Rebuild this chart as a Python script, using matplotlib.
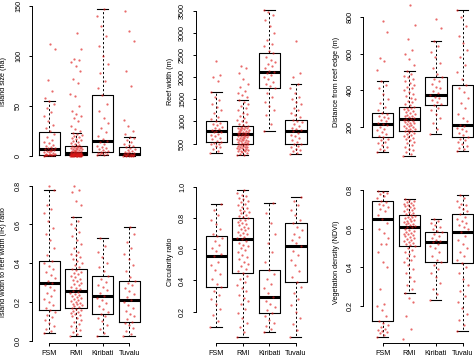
import matplotlib
matplotlib.use('Agg')
import matplotlib.pyplot as plt
import numpy as np

plt.rcParams['font.family'] = ['Liberation Sans', 'DejaVu Sans']

# ---------------- data ----------------
groups = ['FSM', 'RMI', 'Kiribati', 'Tuvalu']

# Panel 1: Island size (ha)
size_lo = [0.3, 0.1, 0.5, 0.1]
size_q1 = [1.0, 0.6, 4.0, 0.5]
size_med = [7.0, 3.0, 15.0, 2.0]
size_q3 = [24.0, 10.0, 61.0, 9.0]
size_hi = [55.0, 23.0, 147.0, 19.0]
size_fsm = [0.3, 0.5, 0.6, 0.8, 0.9, 1.0, 1.1, 1.2, 1.5, 1.8, 2.2, 2.8, 3.5, 4.0, 4.5, 5.2, 5.8, 6.3, 6.8, 7.0,
            7.5, 8.2, 9.0, 10, 11, 12.5, 14, 16, 19, 22, 25, 28, 31, 35, 40, 44, 48, 52, 55, 58, 65, 76, 107, 112]
size_rmi = [0.1, 0.15, 0.2, 0.2, 0.25, 0.3, 0.3, 0.35, 0.4, 0.4, 0.45, 0.5, 0.5, 0.5, 0.55, 0.6, 0.6, 0.65, 0.7,
            0.7, 0.75, 0.8, 0.9, 1.0, 1.1, 1.2, 1.3, 1.4, 1.5, 1.6, 1.7, 1.8, 1.9, 2.0, 2.1, 2.2, 2.3, 2.4, 2.5,
            2.6, 2.7, 2.8, 2.9, 3.0, 3.2, 3.4, 3.6, 3.9, 4.2, 4.5, 4.8, 5.1, 5.4, 5.8, 6.1, 6.5, 6.9, 7.2, 7.6,
            8.0, 8.4, 8.8, 9.1, 9.4, 9.7, 10, 11, 12, 13, 14, 15, 16, 17, 18, 19, 20, 21, 22, 23, 25, 27, 30,
            35, 38, 40, 42, 45, 50, 60, 62, 73, 77, 85, 90, 94, 96, 97, 107, 123]
size_kir = [0.5, 1, 1.5, 2, 2.5, 3, 3.5, 4, 5, 6, 7, 8, 9, 10, 12, 14, 15, 17, 20, 24, 28, 33, 38, 45, 52, 61,
            68, 75, 83, 92, 100, 110, 120, 130, 140, 147]
size_tuv = [0.1, 0.2, 0.3, 0.3, 0.4, 0.5, 0.5, 0.6, 0.8, 1.0, 1.2, 1.4, 1.6, 1.8, 2.0, 2.5, 3, 3.5, 4, 5, 6, 7,
            8, 9, 10, 11, 12, 14, 16, 18, 19, 22, 25, 30, 36, 70, 85, 115, 125, 145]

# Panel 2: Reef width (m)
reef_lo = [290, 230, 793, 260]
reef_q1 = [530, 500, 1763, 500]
reef_med = [786, 710, 2117, 778]
reef_q3 = [1004, 891, 2538, 1041]
reef_hi = [1658, 1477, 3530, 1838]
reef_fsm = [290, 330, 380, 420, 450, 480, 500, 520, 530, 560, 600, 630, 660, 690, 720, 750, 770, 786, 800, 830,
            860, 880, 910, 940, 970, 1004, 1050, 1100, 1180, 1250, 1320, 1400, 1480, 1560, 1658, 1920, 2000,
            2040, 2360]
reef_rmi = [230, 250, 270, 290, 300, 320, 330, 340, 350, 360, 370, 380, 390, 400, 410, 420, 430, 440, 450, 460,
            470, 480, 490, 500, 510, 520, 530, 540, 550, 560, 570, 580, 590, 600, 610, 620, 630, 640, 650, 660,
            670, 680, 690, 700, 705, 710, 720, 730, 740, 750, 760, 770, 780, 790, 800, 810, 820, 830, 840, 850,
            860, 870, 880, 891, 920, 950, 980, 1010, 1040, 1080, 1120, 1160, 1200, 1250, 1300, 1350, 1400, 1440,
            1477, 1550, 1600, 1650, 1700, 1780, 1850, 1950, 2100, 2200, 2250]
reef_kir = [793, 950, 1150, 1250, 1350, 1450, 1550, 1650, 1763, 1800, 1850, 1900, 1950, 2000, 2050, 2100, 2117,
            2150, 2200, 2250, 2300, 2350, 2400, 2450, 2538, 2600, 2700, 2750, 2850, 3000, 3150, 3300, 3400,
            3480, 3530]
reef_tuv = [260, 290, 320, 350, 380, 420, 450, 480, 500, 540, 580, 620, 660, 700, 740, 778, 800, 830, 860, 900,
            940, 980, 1010, 1041, 1100, 1150, 1200, 1250, 1300, 1400, 1450, 1500, 1550, 1650, 1750, 1838, 2000,
            2100, 2830]

# Panel 3: Distance from reef edge (m)
dist_lo = [59, 39, 160, 68]
dist_q1 = [141, 178, 317, 145]
dist_med = [215, 240, 374, 211]
dist_q3 = [273, 310, 471, 427]
dist_hi = [452, 505, 672, 840]
dist_fsm = [59, 70, 80, 90, 100, 110, 118, 125, 132, 141, 150, 160, 170, 180, 190, 200, 208, 215, 222, 230, 238,
            245, 252, 260, 268, 273, 290, 310, 330, 350, 380, 410, 430, 452, 510, 560, 575, 720, 780]
dist_rmi = [39, 50, 60, 70, 80, 90, 100, 110, 118, 125, 132, 138, 145, 150, 155, 160, 165, 170, 175, 178, 182,
            186, 190, 194, 198, 202, 206, 210, 214, 218, 222, 226, 230, 234, 238, 240, 244, 248, 252, 256, 260,
            265, 270, 275, 280, 285, 290, 295, 300, 305, 310, 318, 326, 334, 342, 350, 360, 370, 380, 390, 400,
            410, 420, 430, 440, 450, 460, 470, 480, 490, 505, 540, 570, 600, 620, 680, 760, 870]
dist_kir = [160, 190, 220, 250, 270, 290, 305, 317, 325, 335, 345, 355, 365, 374, 385, 395, 410, 420, 435, 450,
            460, 471, 490, 520, 550, 580, 610, 640, 672, 740, 790]
dist_tuv = [68, 75, 85, 95, 105, 115, 125, 135, 145, 155, 165, 175, 185, 195, 205, 211, 230, 250, 270, 300, 330,
            360, 390, 410, 427, 460, 500, 540, 580, 620, 660, 700, 750, 800, 840]

# Panel 4: Island width to reef width (IR) ratio
ir_lo = [0.038, 0.026, 0.022, 0.022]
ir_q1 = [0.158, 0.167, 0.139, 0.098]
ir_med = [0.297, 0.259, 0.230, 0.211]
ir_q3 = [0.412, 0.369, 0.336, 0.309]
ir_hi = [0.776, 0.640, 0.529, 0.587]
ir_fsm = [0.038, 0.05, 0.06, 0.075, 0.09, 0.105, 0.12, 0.135, 0.15, 0.158, 0.17, 0.185, 0.2, 0.215, 0.23, 0.245,
          0.26, 0.275, 0.29, 0.297, 0.31, 0.325, 0.34, 0.355, 0.37, 0.385, 0.4, 0.412, 0.44, 0.48, 0.52, 0.55,
          0.58, 0.62, 0.66, 0.68, 0.70, 0.776, 0.80]
ir_rmi = [0.026, 0.035, 0.045, 0.055, 0.065, 0.075, 0.085, 0.095, 0.105, 0.115, 0.125, 0.135, 0.14, 0.145, 0.15,
          0.155, 0.16, 0.165, 0.167, 0.172, 0.177, 0.182, 0.187, 0.192, 0.197, 0.202, 0.207, 0.212, 0.217, 0.222,
          0.227, 0.232, 0.237, 0.242, 0.247, 0.252, 0.259, 0.265, 0.272, 0.279, 0.286, 0.293, 0.3, 0.307, 0.314,
          0.321, 0.328, 0.335, 0.342, 0.349, 0.356, 0.363, 0.369, 0.38, 0.39, 0.4, 0.41, 0.42, 0.43, 0.44, 0.45,
          0.46, 0.48, 0.5, 0.52, 0.54, 0.56, 0.58, 0.6, 0.62, 0.64, 0.70, 0.72, 0.77, 0.78, 0.80]
ir_kir = [0.022, 0.04, 0.06, 0.08, 0.1, 0.115, 0.13, 0.139, 0.15, 0.165, 0.18, 0.195, 0.21, 0.22, 0.23, 0.245,
          0.26, 0.275, 0.29, 0.305, 0.32, 0.336, 0.36, 0.38, 0.4, 0.43, 0.46, 0.49, 0.529]
ir_tuv = [0.022, 0.035, 0.05, 0.065, 0.08, 0.09, 0.098, 0.11, 0.125, 0.14, 0.155, 0.17, 0.185, 0.2, 0.211, 0.225,
          0.24, 0.255, 0.27, 0.285, 0.3, 0.309, 0.33, 0.36, 0.39, 0.42, 0.45, 0.48, 0.51, 0.55, 0.587]

# Panel 5: Circularity ratio
circ_lo = [0.102, 0.04, 0.072, 0.04]
circ_q1 = [0.356, 0.450, 0.191, 0.388]
circ_med = [0.554, 0.665, 0.294, 0.620]
circ_q3 = [0.682, 0.797, 0.469, 0.765]
circ_hi = [0.891, 0.977, 0.898, 0.936]
circ_fsm = [0.102, 0.14, 0.18, 0.22, 0.25, 0.28, 0.31, 0.33, 0.356, 0.38, 0.41, 0.44, 0.47, 0.5, 0.52, 0.554,
            0.57, 0.59, 0.61, 0.63, 0.65, 0.67, 0.682, 0.7, 0.73, 0.76, 0.79, 0.82, 0.85, 0.891]
circ_rmi = [0.04, 0.07, 0.1, 0.13, 0.16, 0.19, 0.22, 0.25, 0.27, 0.29, 0.31, 0.33, 0.35, 0.37, 0.39, 0.41, 0.43,
            0.45, 0.46, 0.475, 0.49, 0.505, 0.52, 0.535, 0.55, 0.565, 0.58, 0.595, 0.61, 0.62, 0.63, 0.64, 0.65,
            0.665, 0.672, 0.68, 0.688, 0.696, 0.704, 0.712, 0.72, 0.728, 0.736, 0.744, 0.752, 0.76, 0.768, 0.776,
            0.784, 0.79, 0.797, 0.805, 0.813, 0.821, 0.829, 0.837, 0.845, 0.853, 0.861, 0.87, 0.88, 0.89, 0.9,
            0.91, 0.92, 0.93, 0.94, 0.95, 0.96, 0.977]
circ_kir = [0.072, 0.09, 0.11, 0.13, 0.15, 0.17, 0.191, 0.21, 0.23, 0.25, 0.27, 0.294, 0.32, 0.35, 0.38, 0.41,
            0.44, 0.469, 0.52, 0.58, 0.64, 0.7, 0.77, 0.83, 0.898]
circ_tuv = [0.04, 0.08, 0.12, 0.16, 0.2, 0.24, 0.28, 0.32, 0.36, 0.388, 0.42, 0.46, 0.5, 0.53, 0.56, 0.59, 0.62,
            0.64, 0.66, 0.68, 0.7, 0.72, 0.74, 0.765, 0.79, 0.82, 0.85, 0.88, 0.91, 0.936]

# Panel 6: Vegetation density (NDVI)
ndvi_lo = [0.041, 0.266, 0.231, 0.072]
ndvi_q1 = [0.124, 0.509, 0.429, 0.421]
ndvi_med = [0.652, 0.607, 0.529, 0.583]
ndvi_q3 = [0.745, 0.672, 0.581, 0.674]
ndvi_hi = [0.797, 0.755, 0.650, 0.774]
ndvi_fsm = [0.041, 0.05, 0.06, 0.065, 0.07, 0.075, 0.08, 0.09, 0.1, 0.11, 0.124, 0.15, 0.18, 0.2, 0.21, 0.29,
            0.4, 0.43, 0.48, 0.52, 0.52, 0.55, 0.58, 0.6, 0.63, 0.652, 0.67, 0.69, 0.7, 0.71, 0.72, 0.73, 0.74,
            0.745, 0.76, 0.77, 0.78, 0.785, 0.79, 0.797]
ndvi_rmi = [0.03, 0.08, 0.15, 0.22, 0.24, 0.266, 0.29, 0.31, 0.33, 0.35, 0.37, 0.39, 0.41, 0.43, 0.44, 0.45, 0.46,
            0.47, 0.48, 0.49, 0.5, 0.509, 0.515, 0.52, 0.525, 0.53, 0.535, 0.54, 0.545, 0.55, 0.555, 0.56, 0.565,
            0.57, 0.575, 0.58, 0.585, 0.59, 0.595, 0.6, 0.607, 0.61, 0.614, 0.618, 0.622, 0.626, 0.63, 0.634,
            0.638, 0.642, 0.646, 0.65, 0.654, 0.658, 0.662, 0.666, 0.672, 0.676, 0.68, 0.685, 0.69, 0.695, 0.7,
            0.705, 0.71, 0.715, 0.72, 0.725, 0.73, 0.735, 0.74, 0.745, 0.75, 0.755]
ndvi_kir = [0.231, 0.26, 0.29, 0.32, 0.35, 0.37, 0.39, 0.41, 0.429, 0.44, 0.46, 0.48, 0.5, 0.51, 0.52, 0.529,
            0.535, 0.54, 0.55, 0.56, 0.57, 0.581, 0.59, 0.6, 0.61, 0.62, 0.63, 0.64, 0.65]
ndvi_tuv = [0.072, 0.1, 0.13, 0.16, 0.19, 0.22, 0.25, 0.28, 0.31, 0.34, 0.37, 0.4, 0.421, 0.44, 0.46, 0.48, 0.5,
            0.52, 0.54, 0.56, 0.583, 0.6, 0.61, 0.62, 0.63, 0.64, 0.65, 0.66, 0.674, 0.69, 0.7, 0.71, 0.72, 0.73,
            0.745, 0.76, 0.774]

ylabels = ['Island size (ha)', 'Reef width (m)', 'Distance from reef edge (m)',
           'Island width to reef width (IR) ratio', 'Circularity ratio', 'Vegetation density (NDVI)']
yticks = [[0, 50, 100, 150], [500, 1000, 1500, 2000, 2500, 3000, 3500], [200, 400, 600, 800],
          [0.0, 0.2, 0.4, 0.6, 0.8], [0.2, 0.4, 0.6, 0.8, 1.0], [0.2, 0.4, 0.6, 0.8]]
yticklabels = [['0', '50', '100', '150'], ['500', '1000', '1500', '2000', '2500', '3000', '3500'],
               ['200', '400', '600', '800'], ['0.0', '0.2', '0.4', '0.6', '0.8'],
               ['0.2', '0.4', '0.6', '0.8', '1.0'], ['0.2', '0.4', '0.6', '0.8']]

panels = [
    (size_lo, size_q1, size_med, size_q3, size_hi, [size_fsm, size_rmi, size_kir, size_tuv]),
    (reef_lo, reef_q1, reef_med, reef_q3, reef_hi, [reef_fsm, reef_rmi, reef_kir, reef_tuv]),
    (dist_lo, dist_q1, dist_med, dist_q3, dist_hi, [dist_fsm, dist_rmi, dist_kir, dist_tuv]),
    (ir_lo, ir_q1, ir_med, ir_q3, ir_hi, [ir_fsm, ir_rmi, ir_kir, ir_tuv]),
    (circ_lo, circ_q1, circ_med, circ_q3, circ_hi, [circ_fsm, circ_rmi, circ_kir, circ_tuv]),
    (ndvi_lo, ndvi_q1, ndvi_med, ndvi_q3, ndvi_hi, [ndvi_fsm, ndvi_rmi, ndvi_kir, ndvi_tuv]),
]

# ---------------- layout (pixels) ----------------
W, H = 474, 358
fig = plt.figure(figsize=(W / 100, H / 100), dpi=100)
FS = 5.2
UNIT = 26.6                      # px per category
col_c1 = [49.5, 216.2, 382.7]    # pixel x of first box centre
col_axis = [31.7, 195.7, 363.3]  # pixel x of the y-axis line
col_label = [3.5, 170.0, 337.0]  # pixel x of y-label centre
row_top = [1.0, 181.0]
row_bot = [162.0, 343.0]
# tick reference: (value1, pixel1, value2, pixel2)
tickref = [(0, 156.0, 150, 5.5), (500, 143.5, 3500, 11.0), (200, 126.7, 800, 17.3),
           (0.0, 340.7, 0.8, 185.7), (0.2, 311.7, 1.0, 186.7), (0.2, 306.0, 0.8, 190.0)]

golden = 0.6180339887

for k, (lo, q1, med, q3, hi, pts) in enumerate(panels):
    r, c = divmod(k, 3)
    left = col_c1[c] - 0.66 * UNIT
    width = 4.32 * UNIT
    top, bot = row_top[r], row_bot[r]
    ax = fig.add_axes([left / W, 1 - bot / H, width / W, (bot - top) / H])
    ax.set_xlim(0.34, 4.66)
    v1, p1, v2, p2 = tickref[k]
    scale = (v2 - v1) / (p1 - p2)
    ax.set_ylim(v1 + (p1 - bot) * scale, v1 + (p1 - top) * scale)

    stats = [dict(med=med[i], q1=q1[i], q3=q3[i], whislo=lo[i], whishi=hi[i], label=groups[i])
             for i in range(4)]
    ax.bxp(stats, positions=[1, 2, 3, 4], widths=0.8, showfliers=False, capwidths=0.4,
           boxprops=dict(color='black', lw=0.8),
           whiskerprops=dict(color='black', lw=0.7, ls=(0, (2.2, 2.2))),
           capprops=dict(color='black', lw=0.8),
           medianprops=dict(color='black', lw=2.2, solid_capstyle='butt'))

    for i, vals in enumerate(pts):
        n = len(vals)
        offs = (((np.arange(n) * golden) % 1.0) - 0.5) * 0.44
        ax.scatter(i + 1 + offs, vals, s=2.6, color='#dd1a1a', alpha=0.65, lw=0, zorder=5)

    for s in ['top', 'right']:
        ax.spines[s].set_visible(False)
    ax.spines['left'].set_position(('outward', (left - col_axis[c]) * 0.72))
    ax.spines['left'].set_bounds(yticks[k][0], yticks[k][-1])
    ax.spines['left'].set_linewidth(0.7)
    ax.set_yticks(yticks[k])
    ax.set_yticklabels(yticklabels[k], rotation=90, va='center')
    ax.tick_params(axis='y', direction='out', length=2.4, width=0.7, pad=4.5, labelsize=FS)

    if r == 1:
        ax.spines['bottom'].set_bounds(1, 4)
        ax.spines['bottom'].set_linewidth(0.7)
        ax.set_xticks([1, 2, 3, 4])
        ax.set_xticklabels(groups)
        ax.tick_params(axis='x', direction='out', length=2.4, width=0.7, pad=2.5, labelsize=FS)
    else:
        ax.spines['bottom'].set_visible(False)
        ax.set_xticks([])

    fig.text(col_label[c] / W, 1 - ((top + bot) / 2) / H, ylabels[k], rotation=90,
             ha='center', va='center', fontsize=FS)

fig.savefig('out.png', dpi=100)
